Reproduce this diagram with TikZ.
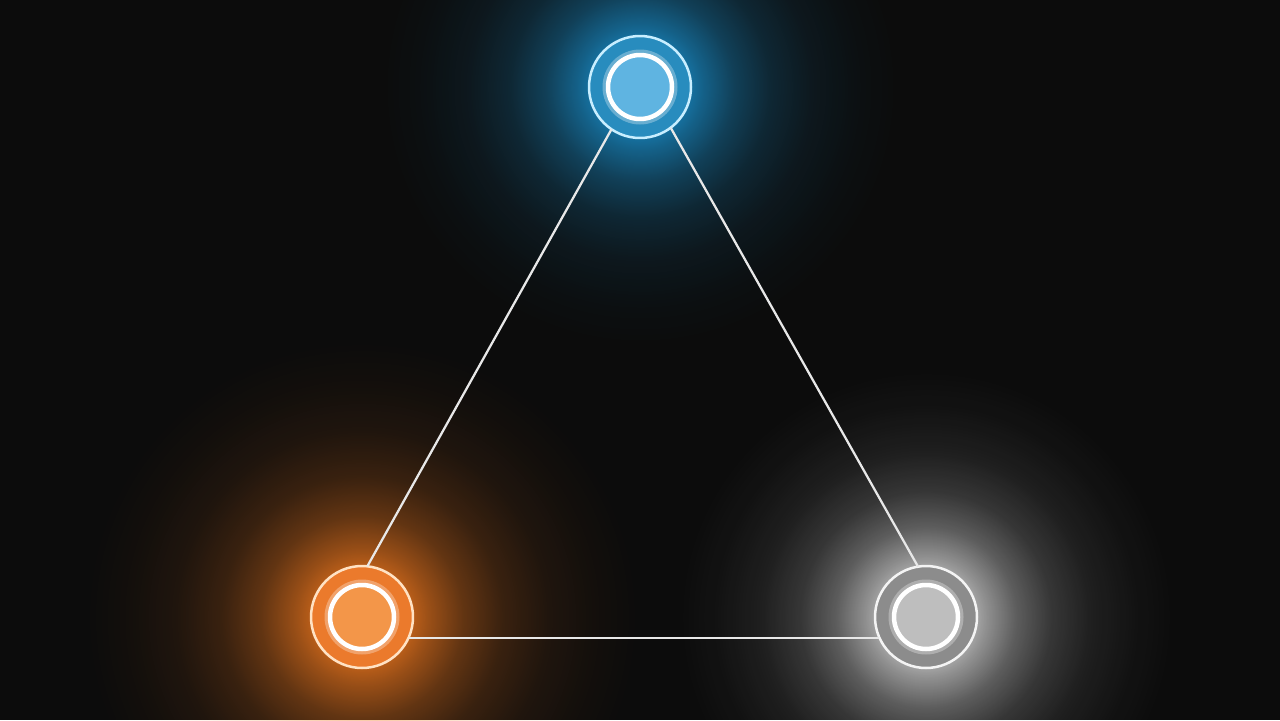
\documentclass[tikz,border=0pt]{standalone}
\usetikzlibrary{fadings}

\definecolor{bg}{HTML}{0C0C0C}
\definecolor{wirecol}{HTML}{E8E8E8}
\definecolor{skyglow}{HTML}{1A96D6}
\definecolor{skyfill}{HTML}{288CBE}
\definecolor{skycore}{HTML}{5FB4E1}
\definecolor{skyring}{HTML}{C8EEFF}
\definecolor{amberglow}{HTML}{F0781E}
\definecolor{amberfill}{HTML}{EB7A2C}
\definecolor{ambercore}{HTML}{F39649}
\definecolor{amberring}{HTML}{FFE2C4}
\definecolor{silverglow}{HTML}{E2E2E2}
\definecolor{silverfill}{HTML}{8C8C8C}
\definecolor{silvercore}{HTML}{BEBEBE}
\definecolor{silverring}{HTML}{F4F4F4}

\pgfdeclareradialshading{glowshade}{\pgfpointorigin}{color(0bp)=(white); color(3bp)=(white!90!black); color(6bp)=(white!62!black); color(9bp)=(white!38!black); color(12.5bp)=(white!20!black); color(16.5bp)=(white!9!black); color(21bp)=(white!3!black); color(25bp)=(black); color(50bp)=(black)}
\pgfdeclarefading{glow}{\pgfuseshading{glowshade}}

\tikzset{
	disc/.style={circle, minimum size=2.04cm, inner sep=0pt, outer sep=0pt, line width=0.05cm},
	core/.style={circle, minimum size=1.28cm, inner sep=0pt, draw=white, line width=0.09cm,
		preaction={draw=white, draw opacity=0.3, line width=0.22cm}},
	wire/.style={draw=wirecol, line width=0.045cm},
}

\begin{document}
\begin{tikzpicture}[x=0.02cm, y=-0.02cm]
	\useasboundingbox (0,0) rectangle (1280,720);
	\fill[bg] (0,0) rectangle (1280,720);
	\clip (0,0) rectangle (1280,720);
	\coordinate (sky-c) at (640,87);
	\coordinate (amber-c) at (362,617);
	\coordinate (silver-c) at (926,617);
	\fill[skyglow, path fading=glow] (sky-c) circle (5.2cm);
	\fill[amberglow, path fading=glow] (amber-c) circle (5.6cm);
	\fill[silverglow, path fading=glow] (silver-c) circle (5cm);
	\node[disc, fill=skyfill, draw=skyring] (sky) at (sky-c) {};
	\node[disc, fill=amberfill, draw=amberring] (amber) at (amber-c) {};
	\node[disc, fill=silverfill, draw=silverring] (silver) at (silver-c) {};
	\node[core, fill=skycore] (sky-core) at (sky-c) {};
	\node[core, fill=ambercore] (amber-core) at (amber-c) {};
	\node[core, fill=silvercore] (silver-core) at (silver-c) {};
	\draw[wire] (sky.236) -- (amber.84);
	\draw[wire] (sky.307) -- (silver.99);
	\draw[wire] (amber.336) -- (silver.204);
\end{tikzpicture}
\end{document}
